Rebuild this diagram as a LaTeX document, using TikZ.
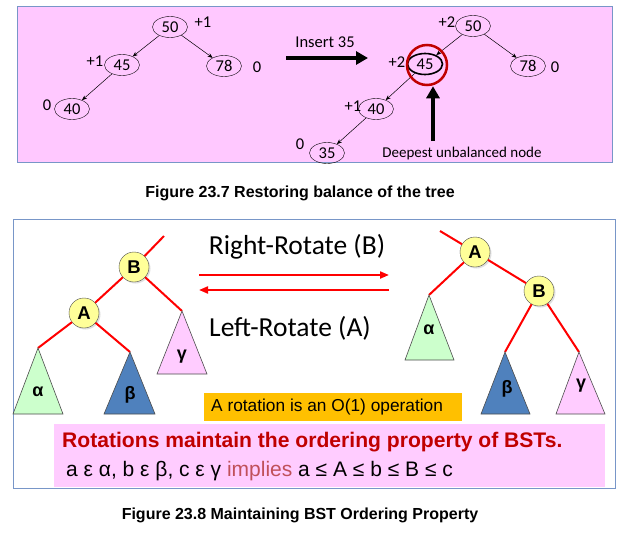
\documentclass[tikz,border=0pt]{standalone}
\usepackage{fontspec}
\setmainfont{Liberation Sans}
\newfontfamily\calibri{Carlito}
\usetikzlibrary{calc, shapes, arrows.meta, shadows}
\newcommand{\px}[1]{\fontsize{#1}{#1}\selectfont}
\definecolor{treepink}{RGB}{255,200,255}
\definecolor{notepink}{RGB}{255,204,255}
\definecolor{frameblue}{RGB}{120,150,200}
\definecolor{keyyellow}{RGB}{255,255,153}
\definecolor{alphagreen}{RGB}{204,255,204}
\definecolor{betablue}{RGB}{79,129,189}
\definecolor{darkred}{RGB}{192,0,0}
\definecolor{notebg}{RGB}{255,192,0}
\definecolor{impliesred}{RGB}{192,80,90}

\begin{document}
\begin{tikzpicture}[
    x = 1pt, y = -1pt,
    key/.style = {draw, ellipse, minimum width = 35pt, minimum height = 21pt,
      inner sep = 0pt, font = \calibri\px{16.5}},
    bal/.style = {font = \calibri\px{16.5}},
    ptr/.style = {-{Stealth[length = 5pt, width = 4pt]}, line width = 0.5pt},
    fat/.style = {-{Triangle[length = 12pt, width = 13pt]}, line width = 4pt},
    rot/.style = {draw = black!70, circle, fill = keyyellow, minimum size = 30pt,
      inner sep = 0pt, font = \bfseries\px{18.5},
      drop shadow = {shadow xshift = 1.5pt, shadow yshift = -1.5pt, opacity = 0.25}},
    link/.style = {red, line width = 2pt},
    subtree/.style = {draw = black!70, line width = 0.6pt},
    greek/.style = {font = \bfseries\px{18}},
    frame/.style = {draw = frameblue, line width = 1pt}
  ]
  \useasboundingbox (0,0) rectangle (621,533);

  % Figure 23.7
  \draw[frame, fill = treepink] (17,6) rectangle (612,162);

  \node[key] (50) at (170,27) {50};
  \node[key] (45) at (122,65) {45};
  \node[key] (78) at (224,66) {78};
  \node[key] (40) at (72,109) {40};
  \draw[ptr] (50) -- (45);
  \draw[ptr] (50) -- (78);
  \draw[ptr] (45) -- (40);
  \node[bal] at (203,22) {+1};
  \node[bal] at (95,61) {+1};
  \node[bal] at (257,67) {0};
  \node[bal] at (47,105) {0};

  \coordinate (insS) at (286,58);
  \coordinate (insE) at (368,58);
  \draw[fat] (insS) -- (insE);
  \node[bal] (ins) at (325,42) {Insert 35};

  \node[key] (50b) at (473,26) {50};
  \node[key, line width = 1.6pt] (45b) at (425,64) {45};
  \node[key] (78b) at (528,66) {78};
  \node[key] (40b) at (376,109) {40};
  \node[key] (35b) at (327,153) {35};
  \draw[ptr] (50b) -- (45b);
  \draw[ptr] (50b) -- (78b);
  \draw[ptr] (45b) -- (40b);
  \draw[ptr] (40b) -- (35b);
  \node[draw = darkred, circle, line width = 2.5pt, minimum size = 40pt] (ring) at (427,65) {};
  \node[bal] at (447,22) {+2};
  \node[bal] at (397,62) {+2};
  \node[bal] at (353,106) {+1};
  \node[bal] at (555,67) {0};
  \node[bal] at (300,144) {0};

  \node[font = \calibri\px{15}] (deep) at (462,153) {Deepest unbalanced node};
  \coordinate (upS) at (433,141);
  \draw[fat] (upS) -- (ring.south -| upS);

  \node[font = \bfseries\px{16}] (cap1) at (300,193) {Figure 23.7 Restoring balance of the tree};

  % Figure 23.8
  \draw[frame, fill = white] (13,219) rectangle (615,488);

  % left tree
  \coordinate (rootL) at (164,236);
  \coordinate (alphaL) at (38,348);
  \coordinate (betaL) at (130,352);
  \coordinate (gammaL) at (182,311);
  \node[rot] (B) at (134,267) {B};
  \node[rot] (A) at (84,313) {A};
  \draw[link] (B) -- (rootL);
  \draw[link] (B) -- (A);
  \draw[link] (A) -- (alphaL);
  \draw[link] (A) -- (betaL);
  \draw[link] (B) -- (gammaL);
  \draw[subtree, fill = alphagreen] (alphaL) -- ++(-25,66) -- ++(50,0) -- cycle;
  \draw[subtree, fill = betablue] (betaL) -- ++(-26,62) -- ++(51,0) -- cycle;
  \draw[subtree, fill = notepink] (gammaL) -- ++(-25,63) -- ++(50,0) -- cycle;
  \node[greek] at (38,392) {α};
  \node[greek] at (130,395) {β};
  \node[greek] at (182,357) {γ};

  % rotations
  \node[font = \calibri\px{27.5}] (rr) at (297,247) {Right-Rotate (B)};
  \node[font = \calibri\px{27.5}] (lr) at (290,328) {Left-Rotate (A)};
  \coordinate (rrS) at (199,275);
  \coordinate (rrE) at (389,275);
  \coordinate (lrS) at (389,290);
  \coordinate (lrE) at (199,290);
  \draw[link, -{Triangle[length = 9pt, width = 7pt]}] (rrS) -- (rrE);
  \draw[link, -{Triangle[length = 9pt, width = 7pt]}] (lrS) -- (lrE);

  % right tree
  \coordinate (rootR) at (440,231);
  \coordinate (alphaR) at (429,295);
  \coordinate (betaR) at (505,352);
  \coordinate (gammaR) at (579,352);
  \node[rot] (A2) at (475,252) {A};
  \node[rot] (B2) at (539,291) {B};
  \draw[link] (A2) -- (rootR);
  \draw[link] (A2) -- (B2);
  \draw[link] (A2) -- (alphaR);
  \draw[link] (B2) -- (betaR);
  \draw[link] (B2) -- (gammaR);
  \draw[subtree, fill = alphagreen] (alphaR) -- ++(-24,65) -- ++(49,0) -- cycle;
  \draw[subtree, fill = betablue] (betaR) -- ++(-24,62) -- ++(49,0) -- cycle;
  \draw[subtree, fill = notepink] (gammaR) -- ++(-23,62) -- ++(49,0) -- cycle;
  \node[greek] at (429,330) {α};
  \node[greek] at (507,389) {β};
  \node[greek] at (581,386) {γ};

  % notes
  \draw[fill = notebg, draw = none] (204,393) rectangle (462,421);
  \node[anchor = west, inner sep = 0pt, font = \px{17.3}] (cost) at (211,407)
    {A rotation is an O(1) operation};
  \draw[fill = notepink, draw = none] (54,424) rectangle (605,487);
  \node[anchor = west, inner sep = 0pt, text = darkred, font = \bfseries\px{21.1}] (order) at (62,442)
    {Rotations maintain the ordering property of BSTs.};
  \node[anchor = west, inner sep = 0pt, font = \px{21}] (rule) at (66,471)
    {a ε α, b ε β, c ε γ \textcolor{impliesred}{implies} a ≤ A ≤ b ≤ B ≤ c};

  \node[font = \bfseries\px{16}] (cap2) at (300,515) {Figure 23.8 Maintaining BST Ordering Property};
\end{tikzpicture}
\end{document}
